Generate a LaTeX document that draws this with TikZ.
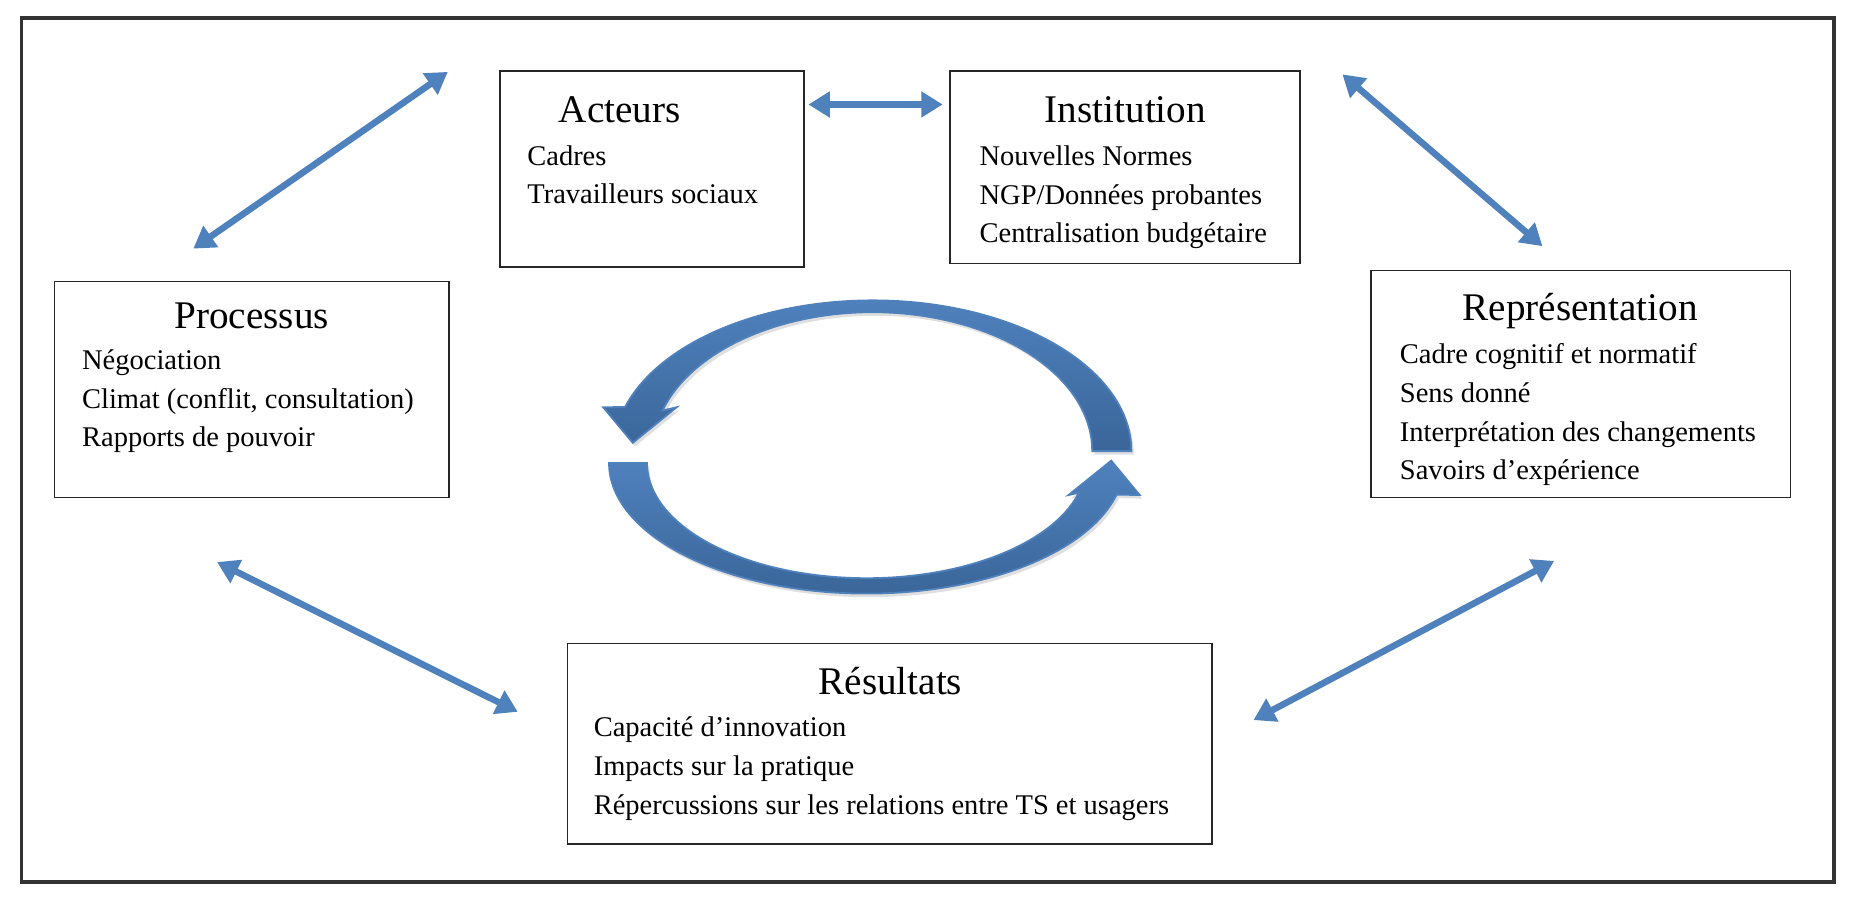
\documentclass[tikz,border=0pt]{standalone}
\usepackage{fontspec}
\setmainfont{Liberation Serif}
\usetikzlibrary{arrows.meta,shadows,calc}
\definecolor{ablue}{HTML}{4F81BD}
\definecolor{dblue}{HTML}{3A6699}
\begin{document}
\begin{tikzpicture}[x=1pt,y=-1pt,
  box/.style={draw=black!85,line width=1.3pt,inner sep=0pt},
  ttl/.style={anchor=base,font=\fontsize{33}{35}\selectfont,inner sep=0pt},
  itm/.style={anchor=base west,font=\fontsize{24}{26}\selectfont,inner sep=0pt},
  dbl/.style={ablue,line width=5.5pt,{Triangle[length=18pt,width=21pt]}-{Triangle[length=18pt,width=21pt]},shorten <=1pt,shorten >=1pt},
  circ/.style={draw=ablue,line width=1.5pt,top color=ablue,bottom color=dblue,drop shadow={opacity=0.25,shadow xshift=2pt,shadow yshift=-3pt}}]
\useasboundingbox (0,0) rectangle (1560,761);
\draw[line width=3pt,black!80] (18,15) rectangle (1545,743);
% boxes
\node[box,minimum width=256pt,minimum height=165pt] (act) at (549,142.5) {};
\node[box,minimum width=295pt,minimum height=162pt] (ins) at (947.5,141) {};
\node[box,minimum width=332pt,minimum height=182pt] (pro) at (212,328) {};
\node[box,minimum width=353pt,minimum height=191pt] (rep) at (1331.5,323.5) {};
\node[box,minimum width=543pt,minimum height=169pt] (res) at (749.5,626.5) {};
% texts
\node[ttl] (t1) at (522,103) {Acteurs};
\node[itm] (a1) at (444,139) {Cadres};
\node[itm] (a2) at (444,171) {Travailleurs sociaux};
\node[ttl] (t2) at (948,103) {Institution};
\node[itm] (i1) at (825,139) {Nouvelles Normes};
\node[itm] (i2) at (825,172) {NGP/Données probantes};
\node[itm] (i3) at (825,204) {Centralisation budgétaire};
\node[ttl] (t3) at (212,277) {Processus};
\node[itm] (p1) at (69,311) {Négociation};
\node[itm] (p2) at (69,344) {Climat (conflit, consultation)};
\node[itm] (p3) at (69,376) {Rapports de pouvoir};
\node[ttl] (t4) at (1331,270) {Représentation};
\node[itm] (r1) at (1179,306) {Cadre cognitif et normatif};
\node[itm] (r2) at (1179,339) {Sens donné};
\node[itm] (r3) at (1179,372) {Interprétation des changements};
\node[itm] (r4) at (1179,404) {Savoirs d’expérience};
\node[ttl] (t5) at (750,585) {Résultats};
\node[itm] (s1) at (500,620) {Capacité d’innovation};
\node[itm] (s2) at (500,653) {Impacts sur la pratique};
\node[itm] (s3) at (500,686) {Répercussions sur les relations entre TS et usagers};
% straight arrows
\coordinate (e1a) at (162,210); \coordinate (e1b) at (378,60);
\coordinate (e2a) at (680,88);  \coordinate (e2b) at (795,88);
\coordinate (e3a) at (1130,62); \coordinate (e3b) at (1300,208);
\coordinate (e4a) at (182,473); \coordinate (e4b) at (437,600);
\coordinate (e5a) at (1310,472);\coordinate (e5b) at (1055,607);
\draw[dbl] (e1a) -- (e1b);
\draw[dbl] (e2a) -- (e2b);
\draw[dbl] (e3a) -- (e3b);
\draw[dbl] (e4a) -- (e4b);
\draw[dbl] (e5a) -- (e5b);
% circular arrows
\path[circ] (953,380) arc[start angle=0,end angle=-163,x radius=218,y radius=127]
  -- (508,343) -- (533,373) -- (570,343)
  -- ($(735,380)+(-163:185 and 117)$) arc[start angle=-163,end angle=0,x radius=185,y radius=117] -- cycle;
\path[circ] (513,390) arc[start angle=180,end angle=14,x radius=217,y radius=110]
  -- (960,417) -- (936,388) -- (900,417)
  -- ($(730,390)+(15:185 and 97)$) arc[start angle=15,end angle=180,x radius=185,y radius=97] -- cycle;
\end{tikzpicture}
\end{document}
